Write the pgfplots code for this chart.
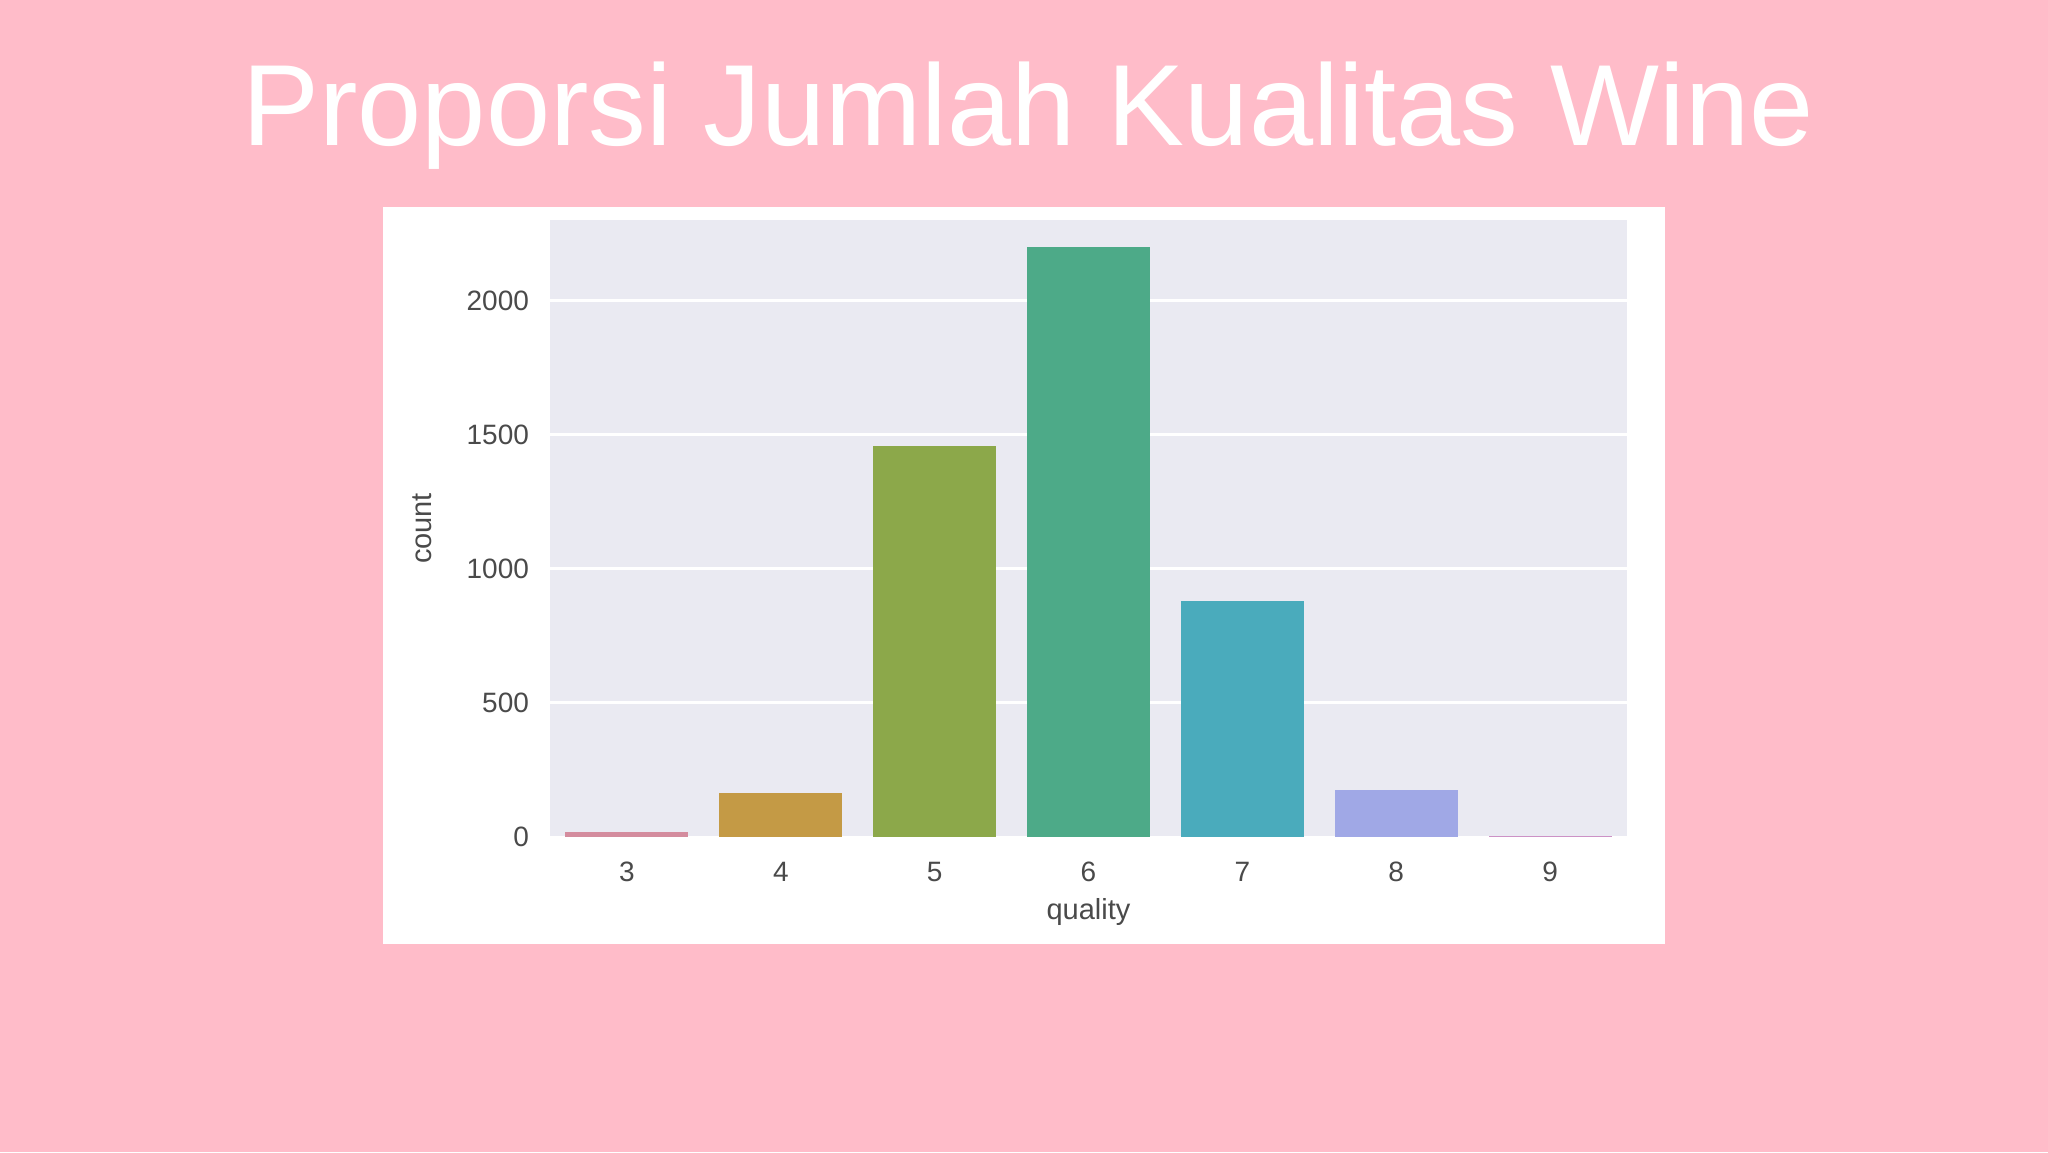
\documentclass[border=0pt]{standalone}
\usepackage{pgfplots}
\pgfplotsset{compat=1.18}
\usepackage{fontspec}
\setmainfont{Liberation Sans}
\definecolor{bgpink}{HTML}{FFBCC9}
\definecolor{sbgray}{HTML}{EAEAF2}
\definecolor{labgray}{HTML}{4A4A4A}
\definecolor{c3}{HTML}{D48C9E}
\definecolor{c4}{HTML}{C49A45}
\definecolor{c5}{HTML}{8CA84A}
\definecolor{c6}{HTML}{4DAA88}
\definecolor{c7}{HTML}{4AABBC}
\definecolor{c8}{HTML}{A0A8E6}
\definecolor{c9}{HTML}{CC92C6}
\begin{document}
\begin{tikzpicture}[x=1pt,y=1pt]
\fill[bgpink] (0,0) rectangle (1024,576);
\useasboundingbox (0,0) rectangle (1024,576);
\fill[white] (191.5,104) rectangle (832.5,472.5);
\node[text=white, font=\fontsize{57.7}{60}\selectfont, anchor=base] at (514,503) {Proporsi Jumlah Kualitas Wine};
\begin{axis}[
  at={(275pt,157.5pt)}, anchor=south west,
  scale only axis, width=538.5pt, height=308.5pt,
  xmin=-0.5, xmax=6.5, ymin=0, ymax=2300,
  axis background/.style={fill=sbgray},
  axis line style={draw=none},
  ymajorgrids, grid style={white, line width=1.5pt},
  xtick={0,1,2,3,4,5,6}, xticklabels={3,4,5,6,7,8,9},
  ytick={0,500,1000,1500,2000},
  major tick length=0pt,
  tick label style={font=\fontsize{14}{14}\selectfont, text=labgray},
  yticklabel style={xshift=-7pt},
  xticklabel style={yshift=-9pt},
  scaled y ticks=false,
  /pgf/number format/assume math mode=true,
  /pgf/number format/1000 sep={},
  xlabel={quality}, ylabel={count},
  every axis x label/.style={at={(axis description cs:0.5,-0.1216)}, anchor=center, font=\fontsize{14.5}{15}\selectfont, text=labgray},
  every axis y label/.style={at={(axis description cs:-0.1188,0.5)}, rotate=90, anchor=center, font=\fontsize{14.5}{15}\selectfont, text=labgray},
  ybar, bar width=61.5pt, bar shift=0pt,
]
\addplot[fill=c3, draw=none] coordinates {(0,20)};
\addplot[fill=c4, draw=none] coordinates {(1,163)};
\addplot[fill=c5, draw=none] coordinates {(2,1457)};
\addplot[fill=c6, draw=none] coordinates {(3,2198)};
\addplot[fill=c7, draw=none] coordinates {(4,880)};
\addplot[fill=c8, draw=none] coordinates {(5,175)};
\addplot[fill=c9, draw=none] coordinates {(6,5)};
\end{axis}
\end{tikzpicture}
\end{document}
